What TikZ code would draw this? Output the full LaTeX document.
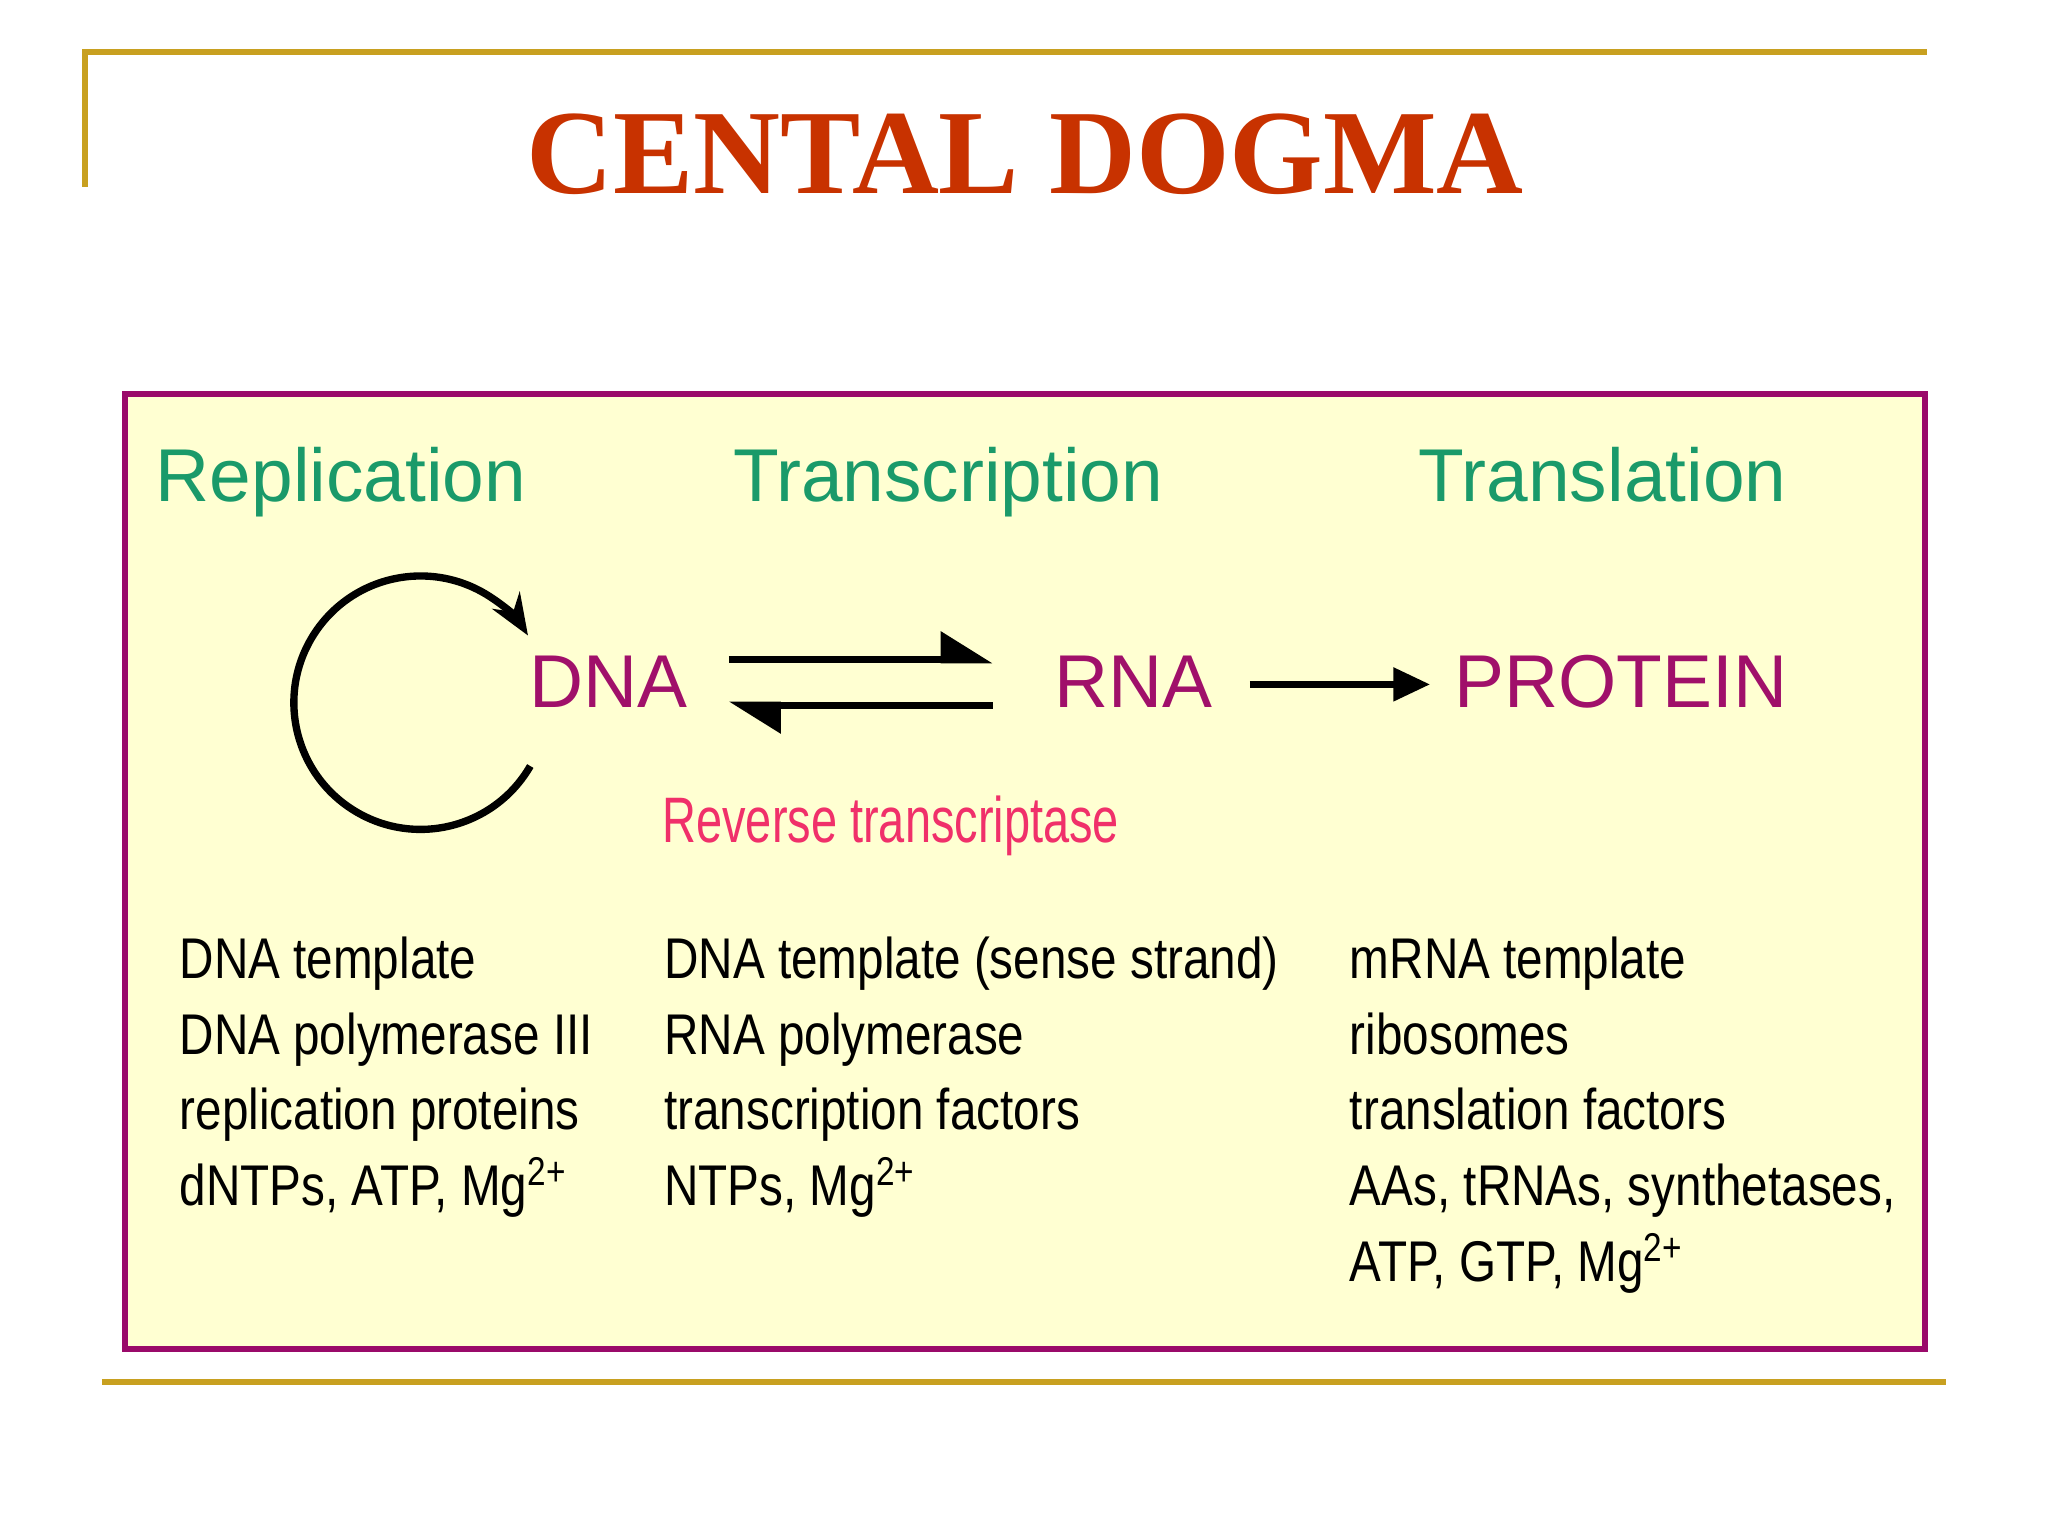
\documentclass[tikz,border=0pt]{standalone}
\usepackage{fontspec}
\setmainfont{Liberation Serif}
\setsansfont{Liberation Sans}
\usetikzlibrary{arrows.meta}
\definecolor{gold}{HTML}{C8A020}
\definecolor{ttl}{HTML}{C83200}
\definecolor{boxb}{HTML}{9A0A6A}
\definecolor{boxf}{HTML}{FFFFD2}
\definecolor{grn}{HTML}{1A9A6A}
\definecolor{mol}{HTML}{A0106A}
\definecolor{pnk}{HTML}{F0306A}
\begin{document}
\begin{tikzpicture}[x=0.01cm,y=-0.01cm,
  head/.style={font=\sffamily\fontsize{16.3}{20}\selectfont,text=grn,anchor=base,inner sep=0},
  mo/.style={font=\sffamily\fontsize{16.3}{20}\selectfont,text=mol,anchor=base,inner sep=0},
  li/.style={font=\sffamily\fontsize{12.5}{15}\selectfont,anchor=base west,xscale=0.83,inner sep=0},
  ar/.style={line width=1.6pt}]
\useasboundingbox (0,0) rectangle (1568,1176);
\draw[gold,line width=1.2pt] (65,143) -- (65,40) -- (1475,40);
\draw[gold,line width=1.2pt] (78,1058) -- (1490,1058);
\node[font=\bfseries\fontsize{26.2}{30}\selectfont,text=ttl] (title) at (785,118) {CENTAL DOGMA};
\draw[boxb,fill=boxf,line width=1.3pt] (96,302) rectangle (1474,1033);
\node[head] (h1) at (261,384) {Replication};
\node[head] (h2) at (726,384) {Transcription};
\node[head] (h3) at (1227,384) {Translation};
\node[mo] (dna) at (466,542) {DNA};
\node[mo] (rna) at (868,542) {RNA};
\node[mo] (prot) at (1241,542) {PROTEIN};
\coordinate (c) at (322,538);
\draw[ar,-{Stealth[length=9pt,width=7pt]}] (c) ++(30:97) arc[start angle=30,end angle=328,radius=97];
\coordinate (a1) at (558,505); \coordinate (a2) at (760,505);
\coordinate (b1) at (760,540); \coordinate (b2) at (558,540);
\draw[ar,-{Triangle[left,length=10pt,width=12pt]}] (a1) -- (a2);
\draw[ar,-{Triangle[left,length=10pt,width=12pt]}] (b1) -- (b2);
\draw[ar,-{Triangle[length=8pt,width=7pt]}] (957,524) coordinate (r0) -- (1095,524) coordinate (p0);
\node[font=\sffamily\fontsize{14}{16}\selectfont,text=pnk,xscale=0.73] (rt) at (682,632) {Reverse transcriptase};
\foreach \t [count=\i] in {DNA template,DNA polymerase III,replication proteins,{dNTPs, ATP, Mg\textsuperscript{2+}}}
  \node[li] (l\i) at (137,{737+58*(\i-1)+12}) {\t};
\foreach \t [count=\i] in {DNA template (sense strand),RNA polymerase,transcription factors,{NTPs, Mg\textsuperscript{2+}}}
  \node[li] (m\i) at (508,{737+58*(\i-1)+12}) {\t};
\foreach \t [count=\i] in {mRNA template,ribosomes,translation factors,{AAs, tRNAs, synthetases,},{ATP, GTP, Mg\textsuperscript{2+}}}
  \node[li] (r\i) at (1033,{737+58*(\i-1)+12}) {\t};
\end{tikzpicture}
\end{document}
